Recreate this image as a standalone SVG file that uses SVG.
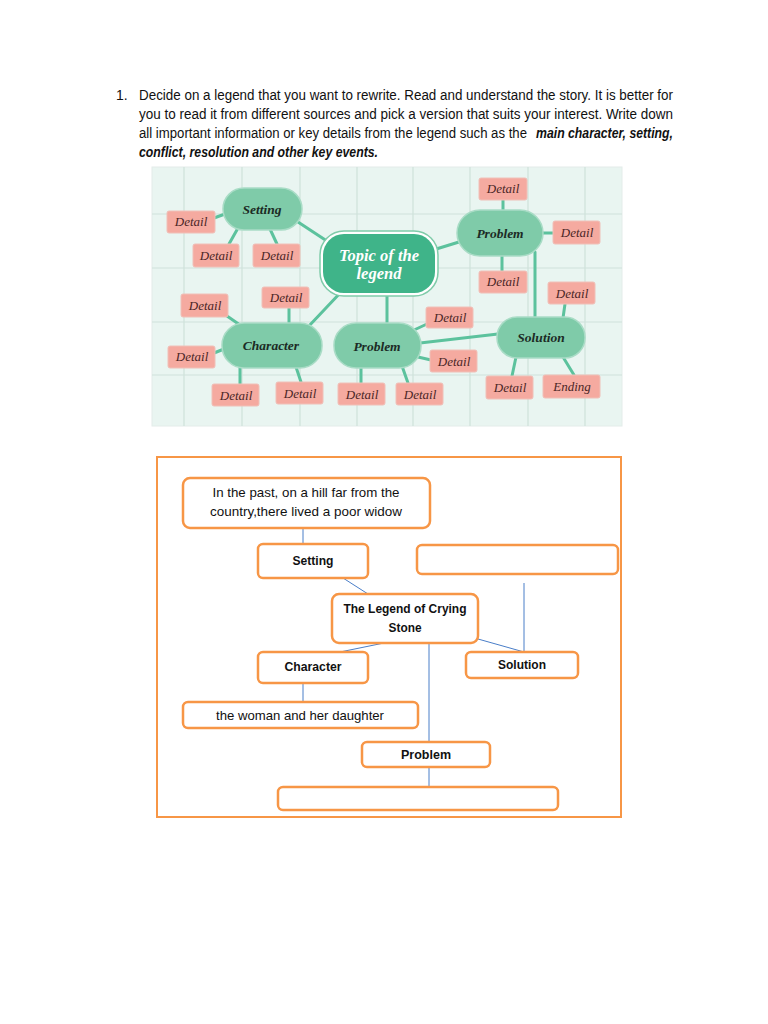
<svg xmlns="http://www.w3.org/2000/svg" width="768" height="1024" viewBox="0 0 768 1024">
<defs>
<style>
.para{font-family:"Liberation Sans","Noto Sans",sans-serif;font-size:14px;fill:#111}
.bi{font-weight:bold;font-style:italic}
.grid{stroke:#cfe2db;stroke-width:1.2}
.gl{stroke:#5cc29d;stroke-width:3;fill:none;stroke-linecap:round}
.gnode{fill:#7fcba9;stroke:#a9dcc6;stroke-width:1.5}
.gtxt{font-family:"Liberation Serif","DejaVu Serif",serif;font-weight:bold;font-style:italic;font-size:13.5px;fill:#1c2b25;text-anchor:middle}
.det{fill:#f5aaa0;stroke:#f0c0b8;stroke-width:1}
.dtxt{font-family:"Liberation Serif","DejaVu Serif",serif;font-style:italic;font-size:13px;fill:#4a2626;text-anchor:middle}
.ob{fill:#fff;stroke:#f79646;stroke-width:2.5}
.ol{stroke:#4a7ec8;stroke-width:1;fill:none}
.bt{font-family:"Liberation Sans","Noto Sans",sans-serif;font-size:13px;fill:#111;text-anchor:middle}
.bb{font-weight:bold}
</style>
</defs>
<rect width="768" height="1024" fill="#fff"/>

<!-- Paragraph -->
<g id="instructions">
<text class="para" x="116" y="100">1.</text>
<text class="para" x="139" y="100" textLength="534" lengthAdjust="spacingAndGlyphs">Decide on a legend that you want to rewrite. Read and understand the story. It is better for</text>
<text class="para" x="139" y="119" textLength="534" lengthAdjust="spacingAndGlyphs">you to read it from different sources and pick a version that suits your interest. Write down</text>
<text class="para" x="139" y="138" textLength="388" lengthAdjust="spacingAndGlyphs">all important information or key details from the legend such as the</text>
<text class="para bi" x="536" y="138" textLength="137" lengthAdjust="spacingAndGlyphs">main character, setting,</text>
<text class="para bi" x="139" y="157" textLength="239" lengthAdjust="spacingAndGlyphs">conflict, resolution and other key events.</text>
</g>

<!-- Mind map picture -->
<g id="mindmap-bg">
<rect x="152" y="167" width="470" height="259" fill="#e9f5f1" stroke="#e3ece9" stroke-width="1"/>
<g class="grid">
<line x1="184" y1="167" x2="184" y2="426"/>
<line x1="242" y1="167" x2="242" y2="426"/>
<line x1="300" y1="167" x2="300" y2="426"/>
<line x1="357" y1="167" x2="357" y2="426"/>
<line x1="413" y1="167" x2="413" y2="426"/>
<line x1="470" y1="167" x2="470" y2="426"/>
<line x1="528" y1="167" x2="528" y2="426"/>
<line x1="585" y1="167" x2="585" y2="426"/>
<line x1="152" y1="214" x2="622" y2="214"/>
<line x1="152" y1="268" x2="622" y2="268"/>
<line x1="152" y1="322" x2="622" y2="322"/>
<line x1="152" y1="375" x2="622" y2="375"/>
</g>
</g>

<g id="mindmap-connectors">
<line class="gl" x1="298" y1="222" x2="336" y2="247"/>
<line class="gl" x1="214" y1="218" x2="225" y2="214"/>
<line class="gl" x1="238" y1="228" x2="229" y2="244"/>
<line class="gl" x1="270" y1="229" x2="277" y2="244"/>
<line class="gl" x1="433" y1="250" x2="459" y2="242"/>
<line class="gl" x1="503" y1="200" x2="503" y2="210"/>
<line class="gl" x1="543" y1="233" x2="553" y2="233"/>
<line class="gl" x1="502" y1="256" x2="502" y2="271"/>
<line class="gl" x1="535" y1="252" x2="535" y2="318"/>
<line class="gl" x1="342" y1="291" x2="308" y2="327"/>
<line class="gl" x1="387" y1="293" x2="387" y2="324"/>
<line class="gl" x1="420" y1="343" x2="498" y2="334"/>
<line class="gl" x1="414" y1="330" x2="427" y2="324"/>
<line class="gl" x1="418" y1="357" x2="431" y2="360"/>
<line class="gl" x1="361" y1="367" x2="361" y2="383"/>
<line class="gl" x1="402" y1="366" x2="408" y2="383"/>
<line class="gl" x1="227" y1="316" x2="240" y2="325"/>
<line class="gl" x1="289" y1="308" x2="289" y2="323"/>
<line class="gl" x1="214" y1="353" x2="224" y2="349"/>
<line class="gl" x1="240" y1="368" x2="240" y2="384"/>
<line class="gl" x1="296" y1="367" x2="301" y2="382"/>
<line class="gl" x1="565" y1="304" x2="563" y2="318"/>
<line class="gl" x1="516" y1="357" x2="512" y2="376"/>
<line class="gl" x1="563" y1="357" x2="574" y2="375"/>
</g>

<g id="mm-topic">
<rect x="320" y="231" width="118" height="65" rx="24" fill="#fff" stroke="#7fcba9" stroke-width="1.5"/>
<rect x="323" y="234" width="112" height="59" rx="21" fill="#3fb489"/>
<text x="379" y="261" font-family="Liberation Serif,DejaVu Serif,serif" font-weight="bold" font-style="italic" font-size="16.5" fill="#fff" text-anchor="middle">Topic of the</text>
<text x="379" y="279" font-family="Liberation Serif,DejaVu Serif,serif" font-weight="bold" font-style="italic" font-size="16.5" fill="#fff" text-anchor="middle">legend</text>
</g>
<g id="mm-setting"><rect class="gnode" x="223" y="188" width="79" height="42" rx="21"/><text class="gtxt" x="262" y="214">Setting</text></g>
<g id="mm-problem-top"><rect class="gnode" x="457" y="210" width="86" height="46" rx="23"/><text class="gtxt" x="500" y="238">Problem</text></g>
<g id="mm-character"><rect class="gnode" x="222" y="323" width="100" height="45" rx="22"/><text class="gtxt" x="271" y="350">Character</text></g>
<g id="mm-problem-mid"><rect class="gnode" x="334" y="323" width="87" height="45" rx="22"/><text class="gtxt" x="377" y="351">Problem</text></g>
<g id="mm-solution"><rect class="gnode" x="497" y="317" width="88" height="41" rx="20"/><text class="gtxt" x="541" y="342">Solution</text></g>

<g id="mm-details">
<rect class="det" x="167" y="211" width="48" height="22" rx="2"/><text class="dtxt" x="191" y="226">Detail</text>
<rect class="det" x="193" y="244" width="46" height="23" rx="2"/><text class="dtxt" x="216" y="260">Detail</text>
<rect class="det" x="253" y="244" width="47" height="23" rx="2"/><text class="dtxt" x="277" y="260">Detail</text>
<rect class="det" x="479" y="178" width="48" height="22" rx="2"/><text class="dtxt" x="503" y="193">Detail</text>
<rect class="det" x="553" y="221" width="47" height="23" rx="2"/><text class="dtxt" x="577" y="237">Detail</text>
<rect class="det" x="479" y="271" width="48" height="22" rx="2"/><text class="dtxt" x="503" y="286">Detail</text>
<rect class="det" x="181" y="294" width="47" height="23" rx="2"/><text class="dtxt" x="205" y="310">Detail</text>
<rect class="det" x="262" y="287" width="47" height="21" rx="2"/><text class="dtxt" x="286" y="302">Detail</text>
<rect class="det" x="168" y="346" width="47" height="22" rx="2"/><text class="dtxt" x="192" y="361">Detail</text>
<rect class="det" x="212" y="384" width="47" height="22" rx="2"/><text class="dtxt" x="236" y="400">Detail</text>
<rect class="det" x="276" y="382" width="47" height="22" rx="2"/><text class="dtxt" x="300" y="398">Detail</text>
<rect class="det" x="338" y="383" width="47" height="22" rx="2"/><text class="dtxt" x="362" y="399">Detail</text>
<rect class="det" x="396" y="383" width="47" height="22" rx="2"/><text class="dtxt" x="420" y="399">Detail</text>
<rect class="det" x="426" y="307" width="47" height="21" rx="2"/><text class="dtxt" x="450" y="322">Detail</text>
<rect class="det" x="430" y="350" width="47" height="22" rx="2"/><text class="dtxt" x="454" y="366">Detail</text>
<rect class="det" x="548" y="282" width="47" height="22" rx="2"/><text class="dtxt" x="572" y="298">Detail</text>
<rect class="det" x="486" y="376" width="47" height="23" rx="2"/><text class="dtxt" x="510" y="392">Detail</text>
<rect class="det" x="543" y="375" width="57" height="23" rx="2"/><text class="dtxt" x="572" y="391">Ending</text>
</g>

<!-- Lower organiser -->
<rect id="frame" x="157" y="457" width="464" height="360" fill="none" stroke="#f79646" stroke-width="2"/>

<g id="organiser-connectors">
<line class="ol" x1="303" y1="528" x2="303" y2="544"/>
<line class="ol" x1="343" y1="578" x2="368" y2="594"/>
<line class="ol" x1="524" y1="583" x2="524" y2="652"/>
<line class="ol" x1="478" y1="639" x2="524" y2="652"/>
<line class="ol" x1="384" y1="643" x2="340" y2="652"/>
<line class="ol" x1="429" y1="643" x2="429" y2="742"/>
<line class="ol" x1="303" y1="683" x2="303" y2="702"/>
<line class="ol" x1="429" y1="767" x2="429" y2="787"/>
</g>

<g id="o-intro"><rect class="ob" x="183" y="478" width="247" height="50" rx="7"/>
<text class="bt" x="306" y="497" textLength="187" lengthAdjust="spacingAndGlyphs">In the past, on a hill far from the</text>
<text class="bt" x="306" y="516" textLength="192" lengthAdjust="spacingAndGlyphs">country,there lived a poor widow</text></g>
<g id="o-setting"><rect class="ob" x="258" y="544" width="110" height="34" rx="5"/><text class="bt bb" x="313" y="565" textLength="41" lengthAdjust="spacingAndGlyphs">Setting</text></g>
<g id="o-empty-top"><rect class="ob" x="417" y="545" width="201" height="29" rx="5"/></g>
<g id="o-title"><rect class="ob" x="332" y="594" width="146" height="49" rx="7"/>
<text class="bt bb" x="405" y="613" textLength="123" lengthAdjust="spacingAndGlyphs">The Legend of Crying</text>
<text class="bt bb" x="405" y="632" textLength="33" lengthAdjust="spacingAndGlyphs">Stone</text></g>
<g id="o-character"><rect class="ob" x="258" y="652" width="110" height="31" rx="5"/><text class="bt bb" x="313" y="671" textLength="57" lengthAdjust="spacingAndGlyphs">Character</text></g>
<g id="o-solution"><rect class="ob" x="466" y="652" width="112" height="26" rx="5"/><text class="bt bb" x="522" y="669" textLength="48" lengthAdjust="spacingAndGlyphs">Solution</text></g>
<g id="o-woman"><rect class="ob" x="183" y="702" width="235" height="26" rx="5"/><text class="bt" x="300" y="720" textLength="168" lengthAdjust="spacingAndGlyphs">the woman and her daughter</text></g>
<g id="o-problem"><rect class="ob" x="362" y="742" width="128" height="25" rx="5"/><text class="bt bb" x="426" y="759" textLength="50" lengthAdjust="spacingAndGlyphs">Problem</text></g>
<g id="o-empty-bottom"><rect class="ob" x="278" y="787" width="280" height="23" rx="5"/></g>
</svg>
